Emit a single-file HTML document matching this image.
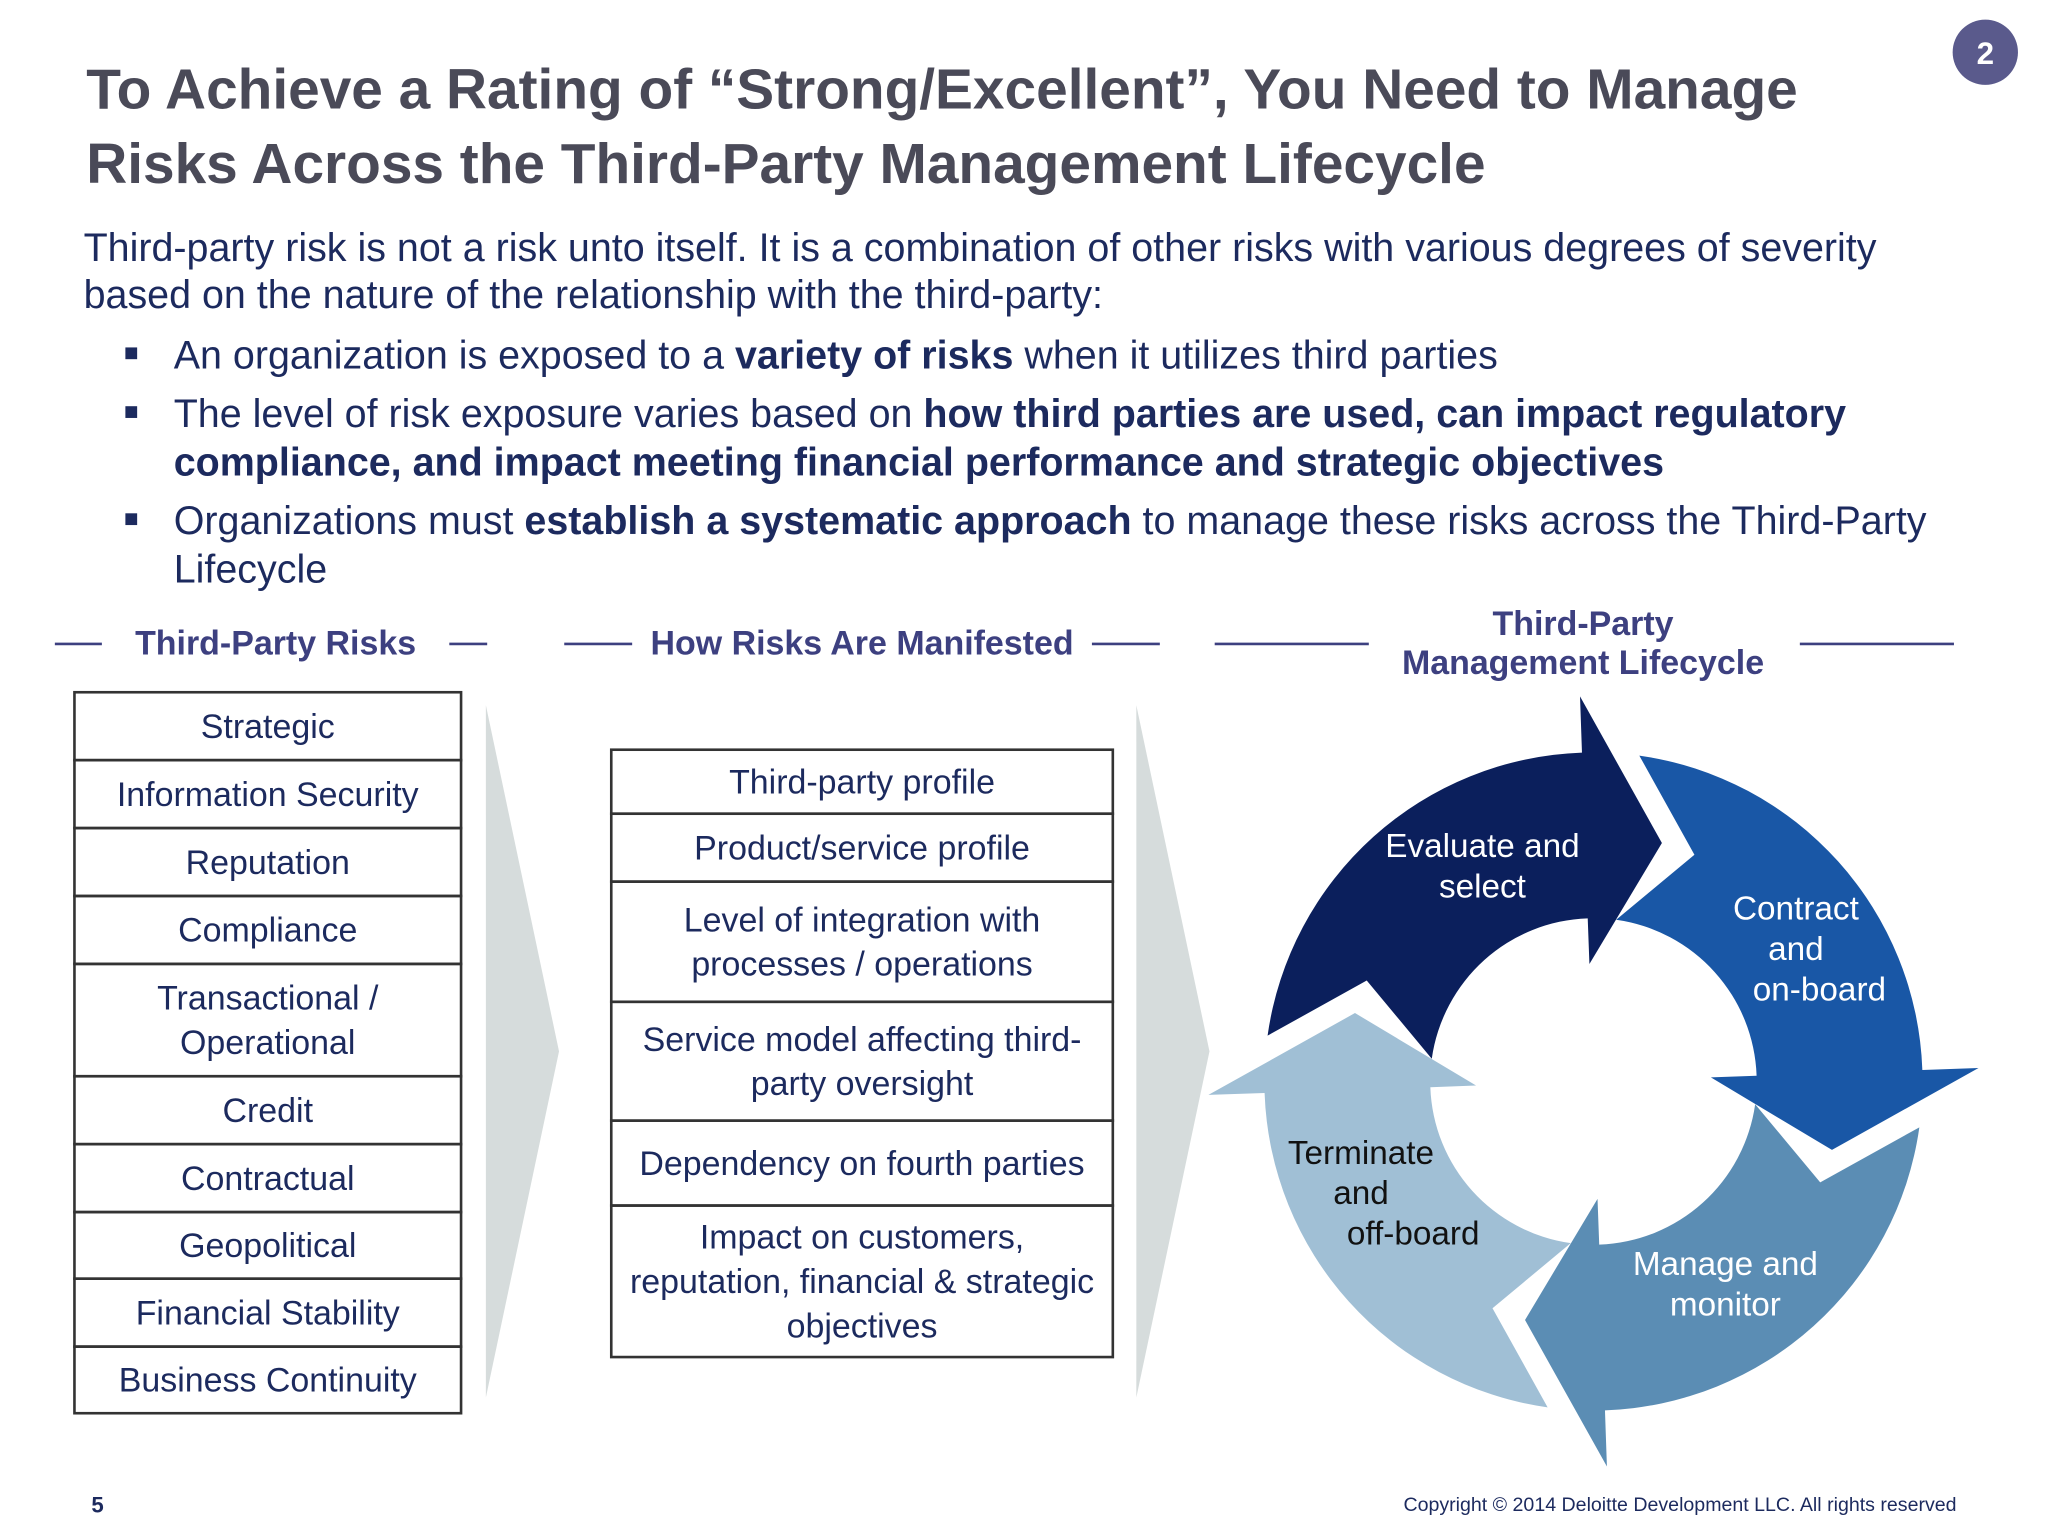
<!DOCTYPE html>
<html><head><meta charset="utf-8"><style>
html,body{margin:0;padding:0;background:#fff}
svg{display:block}
text{font-family:"Liberation Sans",sans-serif}
</style></head><body>
<svg width="2048" height="1536" viewBox="0 0 1568 1176" xmlns="http://www.w3.org/2000/svg">
<circle cx="1520" cy="40" r="25" fill="#5a5a8c"/>
<text x="1520" y="49" font-size="24" font-weight="bold" fill="#fff" text-anchor="middle">2</text>
<g font-size="43.5" font-weight="bold" fill="#4a4a58">
<text x="66" y="83">To Achieve a Rating of “Strong/Excellent”, You Need to Manage</text>
<text x="66" y="140">Risks Across the Third-Party Management Lifecycle</text>
</g>
<g font-size="30.2" fill="#1c2a5e">
<text x="64" y="200">Third-party risk is not a risk unto itself. It is a combination of other risks with various degrees of severity</text>
<text x="64" y="236">based on the nature of the relationship with the third-party:</text>
<rect x="96" y="266" width="9" height="9"/><rect x="96" y="311" width="9" height="9"/><rect x="96" y="393" width="9" height="9"/>
<text x="133" y="282">An organization is exposed to a <tspan font-weight="bold">variety of risks</tspan> when it utilizes third parties</text>
<text x="133" y="327">The level of risk exposure varies based on <tspan font-weight="bold">how third parties are used, can impact regulatory</tspan></text>
<text x="133" y="364" font-weight="bold">compliance, and impact meeting financial performance and strategic objectives</text>
<text x="133" y="409">Organizations must <tspan font-weight="bold">establish a systematic approach</tspan> to manage these risks across the Third-Party</text>
<text x="133" y="446">Lifecycle</text>
</g>
<g font-size="26" font-weight="bold" fill="#3d4080" stroke-width="2">
<line x1="42" y1="493" x2="78" y2="493" stroke="#3d4080"/><line x1="344" y1="493" x2="373" y2="493" stroke="#3d4080"/>
<text x="211" y="501" text-anchor="middle">Third-Party Risks</text>
<line x1="432" y1="493" x2="484" y2="493" stroke="#3d4080"/><line x1="836" y1="493" x2="888" y2="493" stroke="#3d4080"/>
<text x="660" y="501" text-anchor="middle">How Risks Are Manifested</text>
<line x1="930" y1="493" x2="1048" y2="493" stroke="#3d4080"/><line x1="1378" y1="493" x2="1496" y2="493" stroke="#3d4080"/>
<text x="1212" y="486" text-anchor="middle">Third-Party</text>
<text x="1212" y="516" text-anchor="middle">Management Lifecycle</text>
</g>
<polygon points="372,540 428,805 372,1070" fill="#d6dcdc"/>
<polygon points="870,540 926,805 870,1070" fill="#d6dcdc"/>
<g id="tables" fill="none" stroke="#333" stroke-width="2"></g>
<g id="cycle"></g>
<text x="70" y="1158" font-size="17" font-weight="bold" fill="#1c2a5e">5</text>
<text x="1498" y="1157" font-size="15" fill="#1c2a5e" text-anchor="end">Copyright © 2014 Deloitte Development LLC. All rights reserved</text>
</svg>
<script>
const NS="http://www.w3.org/2000/svg";
const risks=[["Strategic"],["Information Security"],["Reputation"],["Compliance"],["Transactional /","Operational"],["Credit"],["Contractual"],["Geopolitical"],["Financial Stability"],["Business Continuity"]];
const riskRows=[530,582,634,686,738,824,876,928,979,1031,1082];
const manif=[["Third-party profile"],["Product/service profile"],["Level of integration with","processes / operations"],["Service model affecting third-","party oversight"],["Dependency on fourth parties"],["Impact on customers,","reputation, financial & strategic","objectives"]];
const manifRows=[574,623,675,767,858,923,1039];
const stages=[["Evaluate and","select"],["Contract","and","on-board"],["Manage and","monitor"],["Terminate","and","off-board"]];
const stageColors=["#0b1f5c","#1957a6","#5b8db4","#a0bfd5"];
function mk(tag,attrs,parent){const e=document.createElementNS(NS,tag);for(const k in attrs)e.setAttribute(k,attrs[k]);parent.appendChild(e);return e;}
const tables=document.getElementById('tables');
function table(items,rows,x0,x1,name){
  items.forEach((lines,i)=>{
    const y0=rows[i],y1=rows[i+1];
    const r=mk('rect',{x:x0,y:y0,width:x1-x0,height:y1-y0},tables);
    
    
    const cy=(y0+y1)/2, lh=34;
    lines.forEach((l,j)=>{
      const t=mk('text',{x:(x0+x1)/2,y:cy+(j-(lines.length-1)/2)*lh+9,'font-size':26,fill:'#1c2a5e',stroke:'none','text-anchor':'middle'},tables);
      
      
      t.textContent=l;
    });
  });
}
table(risks,riskRows,57,353,'risk');
table(manif,manifRows,468,852,'manifestation');
const cyc=document.getElementById('cycle');
const C=[1220,828];
function P(a,r){a=a*Math.PI/180;return (C[0]+r*Math.cos(a)).toFixed(1)+","+(C[1]+r*Math.sin(a)).toFixed(1);}
const Ro=252,Ri=125,Rm=190;
stages.forEach((s,k)=>{
  const st=-172+90*k, base=-92+90*k, tip=-74+90*k;
  const d="M"+P(st,Ro)+" A"+Ro+","+Ro+" 0 0 1 "+P(base,Ro)+" L"+P(base,295)+" L"+P(tip,Rm)+" L"+P(base,90)+" L"+P(base,Ri)+" A"+Ri+","+Ri+" 0 0 0 "+P(st,Ri)+" L"+P(st+16,Rm)+" Z";
  const p=mk('path',{d:d,fill:stageColors[k]},cyc);
  
  
});
const lbl=[[1135,656],[1375,704],[1321,976],[1060,891]];
stages.forEach((s,k)=>{
  s.forEach((l,j)=>{
    let x=lbl[k][0];
    if(k==1&&j==2)x=1393; if(k==3&&j==0)x=1042; if(k==3&&j==1)x=1042; if(k==3&&j==2)x=1082;
    const t=mk('text',{x:x,y:lbl[k][1]+j*31,'font-size':25.5,fill:k==3?'#111':'#fff','text-anchor':'middle'},cyc);
    
    
    t.textContent=l;
  });
});
</script>
</body></html>
